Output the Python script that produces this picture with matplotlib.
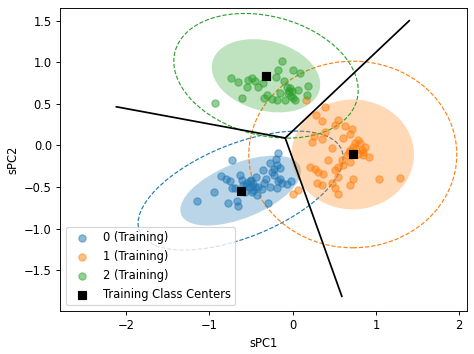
import matplotlib.pyplot as plt
from matplotlib.patches import Ellipse
import numpy as np

# training points
x0 = [-0.726, -0.172, -0.200, -0.273, -0.185, -0.152, -0.225, -0.361, -0.862, -0.802,
      -0.754, -0.634, -0.614, -0.501, -0.445, -0.473, -0.513, -0.413, -0.373, -0.273,
      -0.193, -0.152, -0.132, -0.072, -0.020, -0.172, -0.947, -1.155, -0.782, -0.674,
      -0.654, -0.293, -0.734, -0.694, -0.574, -0.493, -0.433, -0.562, -0.513, -0.550,
      -0.450, -0.350, -0.250, -0.480, -0.600, -0.320, -0.220]
y0 = [-0.176, -0.096, -0.164, -0.205, -0.229, -0.269, -0.285, -0.297, -0.365, -0.397,
      -0.429, -0.349, -0.417, -0.409, -0.377, -0.469, -0.497, -0.497, -0.529, -0.497,
      -0.517, -0.397, -0.457, -0.469, -0.429, -0.429, -0.558, -0.670, -0.686, -0.670,
      -0.726, -0.686, -0.509, -0.517, -0.558, -0.558, -0.598, -0.485, -0.429, -0.450,
      -0.500, -0.450, -0.320, -0.530, -0.470, -0.400, -0.360]

x1 = [0.389, 0.281, 0.349, 0.550, 0.509, 0.630, 0.710, 0.690, 0.610, 0.389,
      0.261, 0.229, 0.357, 0.469, 0.790, 0.870, 0.810, 0.750, 0.730, 0.830,
      0.690, 0.650, 0.690, 0.590, 0.610, 0.550, 0.509, 0.429, 0.309, 0.209,
      0.269, 0.369, 0.550, 0.730, 0.690, 0.469, 0.509, 0.349, 0.289, 0.550,
      0.850, 0.911, 1.031, 1.292, 0.068, 0.008, 0.160, 0.780, 0.680, 0.760,
      0.840]
y1 = [0.457, 0.365, 0.297, 0.305, 0.245, 0.233, 0.193, 0.136, 0.096, 0.164,
      0.112, 0.044, 0.072, -0.036, 0.064, -0.016, 0.024, 0.024, -0.016, -0.056,
      -0.056, -0.116, -0.197, -0.176, -0.237, -0.257, -0.297, -0.176, -0.317, -0.257,
      -0.277, -0.337, -0.377, -0.397, -0.477, -0.457, -0.517, -0.477, -0.457, -0.578,
      -0.076, -0.136, -0.405, -0.389, -0.537, -0.578, 0.545, -0.100, -0.080, -0.040,
      -0.120]

x2 = [-0.124, -0.181, 0.008, 0.088, -0.205, -0.100, -0.742, -0.654, -0.542, -0.493,
      -0.453, -0.554, -0.421, -0.353, -0.072, -0.032, -0.004, -0.060, -0.152, 0.068,
      0.189, 0.168, 0.008, -0.092, 0.028, -0.313, -0.341, -0.245, -0.614, -0.935,
      -0.193, -0.040, -0.020]
y2 = [1.015, 0.907, 0.907, 0.866, 0.826, 0.774, 0.806, 0.766, 0.786, 0.806,
      0.774, 0.706, 0.706, 0.746, 0.706, 0.686, 0.654, 0.626, 0.626, 0.666,
      0.718, 0.606, 0.574, 0.546, 0.546, 0.606, 0.574, 0.554, 0.574, 0.505,
      0.546, 0.660, 0.600]

centers_x = [-0.626, 0.722, -0.321]
centers_y = [-0.542, -0.108, 0.838]

# ellipse shapes (width, height, angle) per class
ell_w = [1.54, 1.47, 1.33]
ell_h = [0.66, 1.32, 0.84]
ell_ang = [22, 0, -15]
outer_scale = 1.7

# decision boundaries: three segments meeting at one vertex
vertex = (-0.09, 0.09)
ends_x = [-2.118, 1.40, 0.59]
ends_y = [0.465, 1.50, -1.813]

labels = ['0 (Training)', '1 (Training)', '2 (Training)']
colors = ['tab:blue', 'tab:orange', 'tab:green']

fig, ax = plt.subplots(figsize=(474 / 83, 354 / 83), dpi=83)
fig.subplots_adjust(left=60 / 474, right=467 / 474, top=1 - 8 / 354, bottom=1 - 311 / 354)

for i in range(3):
    c = (centers_x[i], centers_y[i])
    ax.add_patch(Ellipse(c, ell_w[i], ell_h[i], angle=ell_ang[i],
                         facecolor=colors[i], alpha=0.3, edgecolor='none'))
    ax.add_patch(Ellipse(c, ell_w[i] * outer_scale, ell_h[i] * outer_scale,
                         angle=ell_ang[i], facecolor='none', edgecolor=colors[i],
                         linestyle='--', linewidth=1))

for xs, ys, lab, col in zip([x0, x1, x2], [y0, y1, y2], labels, colors):
    ax.scatter(xs, ys, color=col, alpha=0.5, s=40, label=lab)

ax.scatter(centers_x, centers_y, color='black', marker='s', s=40,
           label='Training Class Centers')

for ex, ey in zip(ends_x, ends_y):
    ax.plot([vertex[0], ex], [vertex[1], ey], color='black', linewidth=1.5)

ax.set_xlim(-2.796, 2.094)
ax.set_ylim(-1.99, 1.653)
ax.set_xlabel('sPC1')
ax.set_ylabel('sPC2')
ax.legend(loc='lower left')

plt.savefig('out.png')
